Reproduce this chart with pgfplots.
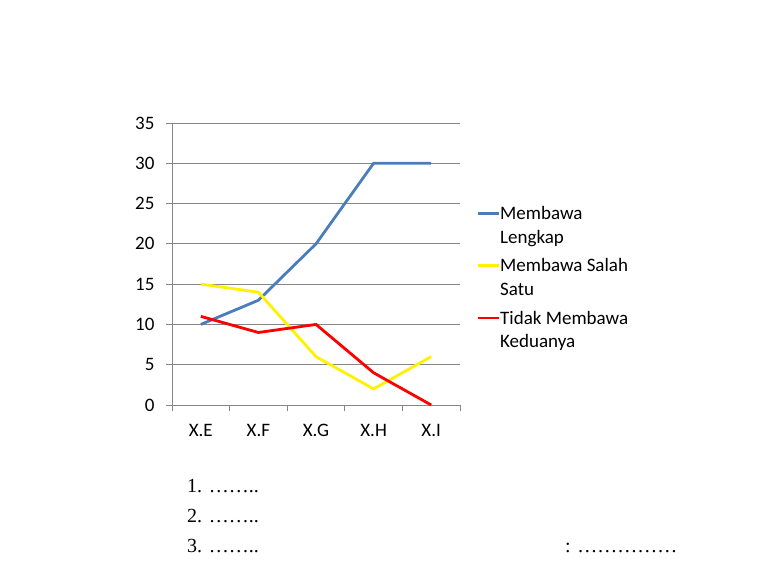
\documentclass[border=0pt]{standalone}
\usepackage{pgfplots}
\pgfplotsset{compat=1.18}
\usepackage{fontspec}
\setmainfont{Carlito}
\newfontfamily\serif{Liberation Serif}
\definecolor{cblue}{HTML}{4A7EBB}
\definecolor{cgrid}{HTML}{868686}
\begin{document}
\begin{tikzpicture}[x=1pt,y=1pt]
\useasboundingbox (0,0) rectangle (768,576);
\begin{axis}[
  at={(172pt,171pt)}, anchor=south west,
  scale only axis, width=288pt, height=282pt,
  xmin=-0.5, xmax=4.5, ymin=0, ymax=35,
  xtick={0,1,2,3,4},
  xticklabels={X.E,X.F,X.G,X.H,X.I},
  minor xtick={-0.5,0.5,1.5,2.5,3.5,4.5},
  ytick={0,5,10,15,20,25,30,35},
  axis x line*=bottom, axis y line*=left,
  axis line style={draw=cgrid, line width=0.9pt, -},
  ymajorgrids, major grid style={draw=cgrid, line width=0.9pt},
  tick align=outside,
  major tick length=6pt, minor tick length=6pt,
  every tick/.style={draw=cgrid, line width=0.9pt},
  minor tick style={draw=cgrid, line width=0.9pt},
  x tick style={draw=none},
  minor x tick style={draw=cgrid, line width=0.9pt},
  tick label style={font=\fontsize{19}{22}\selectfont},
  xticklabel style={yshift=-10pt},
  yticklabel style={xshift=-8pt},
  /pgf/number format/assume math mode=true,
  legend style={at={(1.052,0.719)}, anchor=north west, draw=none, fill=none,
    font=\fontsize{19}{23.5}\selectfont, row sep=10pt,
    cells={anchor=west, align=left},
    nodes={inner xsep=1pt}},
  legend image code/.code={\path[draw=none] (0pt,-1.4pt) rectangle (21pt,1.4pt);\draw[#1, overlay] (0pt,12pt) -- (21pt,12pt);},
]
\addplot[cblue, line width=2.8pt] coordinates {(0,10) (1,13) (2,20) (3,30) (4,30)};
\addlegendentry{Membawa\\Lengkap}
\addplot[yellow, line width=2.8pt] coordinates {(0,15) (1,14) (2,6) (3,2) (4,6)};
\addlegendentry{Membawa Salah\\Satu}
\addplot[red, line width=2.8pt] coordinates {(0,11) (1,9) (2,10) (3,4) (4,0)};
\addlegendentry{Tidak Membawa\\Keduanya}
\end{axis}
\node[anchor=base west, inner sep=0pt, font=\serif\fontsize{20}{20}\selectfont] at (187,84) {1. ……..};
\node[anchor=base west, inner sep=0pt, font=\serif\fontsize{20}{20}\selectfont] at (187,54) {2. ……..};
\node[anchor=base west, inner sep=0pt, font=\serif\fontsize{20}{20}\selectfont] at (187,24) {3. ……..};
\node[anchor=base west, inner sep=0pt, font=\serif\fontsize{20}{20}\selectfont] at (565,24) {: ……………};
\end{tikzpicture}
\end{document}
